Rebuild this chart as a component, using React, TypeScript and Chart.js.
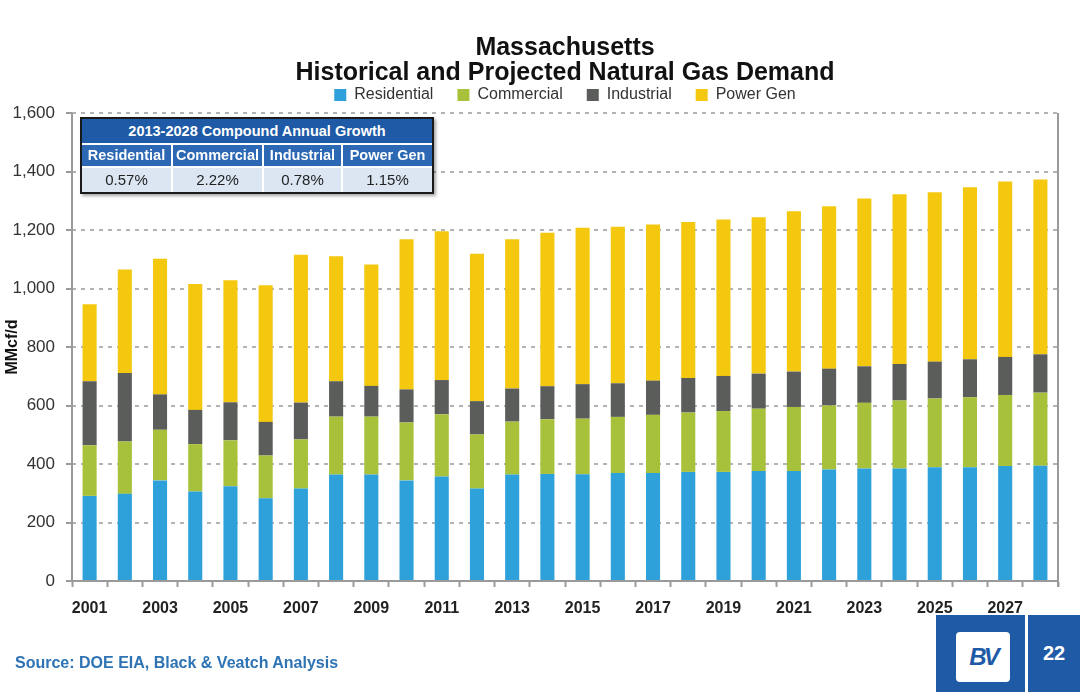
import React, { useEffect, useRef } from 'react';
import { Chart, registerables } from 'chart.js';

Chart.register(...registerables);

// ---------- data ----------
const years = [
  '2001', '2002', '2003', '2004', '2005', '2006', '2007', '2008', '2009', '2010',
  '2011', '2012', '2013', '2014', '2015', '2016', '2017', '2018', '2019', '2020',
  '2021', '2022', '2023', '2024', '2025', '2026', '2027', '2028',
];
const residential = [291, 298, 344, 306, 324, 283, 316, 364, 364, 344, 357, 316, 364, 366, 365, 369, 369, 373, 373, 376, 376, 381, 385, 385, 389, 389, 393, 394];
const commercial = [173, 179, 173, 162, 157, 146, 168, 198, 198, 198, 213, 185, 181, 187, 190, 192, 199, 203, 208, 213, 219, 219, 224, 232, 235, 239, 243, 250];
const industrial = [219, 234, 121, 117, 130, 115, 126, 121, 105, 113, 117, 114, 113, 113, 118, 115, 117, 118, 120, 120, 121, 126, 125, 125, 126, 130, 130, 131];
const powerGen = [263, 354, 464, 430, 417, 467, 505, 427, 415, 513, 509, 504, 510, 525, 535, 535, 534, 533, 535, 535, 548, 555, 574, 580, 579, 588, 600, 598];

const seriesNames = ['Residential', 'Commercial', 'Industrial', 'Power Gen'];
const seriesColors = ['#2EA1DB', '#A7C13B', '#5B5D5B', '#F3C80F'];

const yMin = 0;
const yMax = 1600;
const yStep = 200;

const titleLines = ['Massachusetts', 'Historical and Projected Natural Gas Demand'];
const yAxisTitle = 'MMcf/d';

const cagrTitle = '2013-2028 Compound Annual Growth';
const cagrLabels = ['Residential', 'Commercial', 'Industrial', 'Power Gen'];
const cagrValues = ['0.57%', '2.22%', '0.78%', '1.15%'];

const sourceText = 'Source: DOE EIA, Black & Veatch Analysis';
const pageNumber = '22';

// ---------- styles ----------
const SANS = "'Liberation Sans', Arial, sans-serif";

const frameLinesPlugin = {
  id: 'frameLines',
  afterDraw(chart: any) {
    const { ctx, chartArea } = chart;
    ctx.save();
    ctx.setLineDash([]);
    ctx.strokeStyle = '#9a9a9a';
    ctx.lineWidth = 2;
    ctx.beginPath();
    // right frame line
    ctx.moveTo(chartArea.right, chartArea.top);
    ctx.lineTo(chartArea.right, chartArea.bottom + 6);
    // left axis line
    ctx.moveTo(chartArea.left, chartArea.top);
    ctx.lineTo(chartArea.left, chartArea.bottom + 1);
    ctx.stroke();
    ctx.restore();
  },
};

function ChartCanvas() {
  const ref = useRef<HTMLCanvasElement | null>(null);
  useEffect(() => {
    if (!ref.current) return;
    const data = [residential, commercial, industrial, powerGen];
    const chart = new Chart(ref.current, {
      type: 'bar',
      data: {
        labels: years,
        datasets: seriesNames.map((name, i) => ({
          label: name,
          data: data[i],
          backgroundColor: seriesColors[i],
          borderWidth: 0,
          barPercentage: 0.5,
          categoryPercentage: 0.8,
        })),
      },
      plugins: [frameLinesPlugin],
      options: {
        responsive: false,
        animation: false,
        locale: 'en-US',
        layout: { padding: { left: 0, right: 22, top: 0, bottom: 71 } },
        plugins: {
          title: {
            display: true,
            fullSize: false,
            text: titleLines,
            color: '#111',
            font: { family: SANS, size: 25, weight: 'bold', lineHeight: 1.0 },
            padding: { top: 36, bottom: -23 },
          },
          legend: {
            display: true,
            fullSize: false,
            position: 'top',
            labels: {
              boxWidth: 12,
              boxHeight: 12,
              padding: 24,
              color: '#333',
              font: { family: SANS, size: 16 },
            },
          },
          tooltip: { enabled: false },
        },
        scales: {
          x: {
            stacked: true,
            afterFit: (s: any) => { s.height = 40; },
            grid: {
              display: true,
              offset: true,
              drawOnChartArea: false,
              drawTicks: true,
              tickLength: 6,
              tickColor: '#9a9a9a',
              tickWidth: 2,
            },
            border: { display: true, color: '#9a9a9a', width: 2 },
            ticks: {
              autoSkip: false,
              maxRotation: 0,
              minRotation: 0,
              padding: 12,
              color: '#222',
              font: { family: SANS, size: 16, weight: 'bold' },
              callback: (_v: any, i: number) => (i % 2 === 0 ? years[i] : ''),
            },
          },
          y: {
            stacked: true,
            min: yMin,
            max: yMax,
            afterFit: (s: any) => { s.width = 72; },
            grid: {
              color: '#b3b3b3',
              lineWidth: 2,
              drawTicks: true,
              tickLength: 6,
              tickColor: '#9a9a9a',
              tickWidth: 2,
              tickBorderDash: [],
            },
            border: { display: false, color: '#9a9a9a', width: 2, dash: [4, 5] },
            ticks: {
              stepSize: yStep,
              padding: 11,
              color: '#333',
              font: { family: SANS, size: 17 },
            },
            title: {
              display: true,
              text: yAxisTitle,
              color: '#111',
              font: { family: SANS, size: 16, weight: 'bold' },
              padding: { top: 3, bottom: 0 },
            },
          },
        },
      },
    } as any);
    return () => chart.destroy();
  }, []);
  return <canvas ref={ref} width={1080} height={692} style={{ position: 'absolute', left: 0, top: 0, width: 1080, height: 692 }} />;
}

function CagrTable() {
  const widths = [91, 91, 79, 89];
  const cell = (w: number, bg: string, color: string, text: string, bold: boolean, h: number, last: boolean) => (
    <div
      key={text + bg}
      style={{
        width: w - (last ? 0 : 2),
        marginRight: last ? 0 : 2,
        height: h,
        background: bg,
        color,
        fontFamily: SANS,
        fontWeight: bold ? 'bold' : 'normal',
        fontSize: bold ? 14.5 : 15,
        lineHeight: h + 'px',
        textAlign: 'center',
        whiteSpace: 'nowrap',
        overflow: 'hidden',
      }}
    >
      {text}
    </div>
  );
  return (
    <div
      style={{
        position: 'absolute',
        left: 80,
        top: 117,
        width: 350,
        border: '2px solid #1a1a1a',
        background: '#ffffff',
        boxShadow: '2px 2px 3px rgba(0,0,0,0.35)',
      }}
    >
      <div
        style={{
          height: 24,
          background: '#1E5AA5',
          color: '#fff',
          fontFamily: SANS,
          fontWeight: 'bold',
          fontSize: 14.5,
          lineHeight: '24px',
          textAlign: 'center',
          marginBottom: 2,
        }}
      >
        {cagrTitle}
      </div>
      <div style={{ display: 'flex', marginBottom: 2 }}>
        {cagrLabels.map((t, i) => cell(widths[i], '#2C68B3', '#fff', t, true, 21, i === widths.length - 1))}
      </div>
      <div style={{ display: 'flex' }}>
        {cagrValues.map((t, i) => cell(widths[i], '#DCE6F2', '#222', t, false, 24, i === widths.length - 1))}
      </div>
    </div>
  );
}

function Footer() {
  return (
    <>
      <div
        style={{
          position: 'absolute',
          left: 15,
          top: 653,
          fontFamily: SANS,
          fontWeight: 'bold',
          fontSize: 16,
          lineHeight: '20px',
          color: '#2E74B5',
          whiteSpace: 'nowrap',
        }}
      >
        {sourceText}
      </div>
      <div style={{ position: 'absolute', left: 936, top: 615, width: 89, height: 77, background: '#1F5AA6' }}>
        <div
          style={{
            position: 'absolute',
            left: 20,
            top: 17,
            width: 54,
            height: 50,
            background: '#fff',
            borderRadius: 4,
            color: '#1F5AA6',
            fontFamily: SANS,
            fontWeight: 'bold',
            fontStyle: 'italic',
            fontSize: 24,
            lineHeight: '50px',
            textAlign: 'center',
            letterSpacing: -3,
          }}
        >
          BV
        </div>
      </div>
      <div
        style={{
          position: 'absolute',
          left: 1028,
          top: 615,
          width: 52,
          height: 77,
          background: '#1F5AA6',
          color: '#fff',
          fontFamily: SANS,
          fontWeight: 'bold',
          fontSize: 20,
          lineHeight: '77px',
          textAlign: 'center',
        }}
      >
        {pageNumber}
      </div>
    </>
  );
}

export default function App() {
  return (
    <div style={{ position: 'absolute', left: 0, top: 0, width: 1080, height: 692, background: '#fff', overflow: 'hidden' }}>
      <ChartCanvas />
      <CagrTable />
      <Footer />
    </div>
  );
}
